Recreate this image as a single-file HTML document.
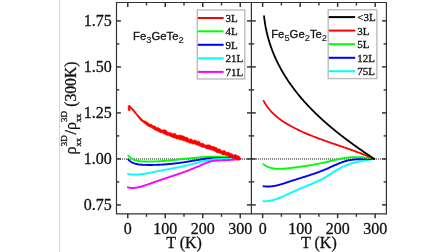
<!DOCTYPE html>
<html><head><meta charset="utf-8"><style>
html,body{margin:0;padding:0;background:#fff;width:448px;height:252px;overflow:hidden}
svg{display:block}
text{fill:#111;stroke:#111;stroke-width:0.3px;paint-order:stroke}
</style></head><body>
<svg width="448" height="252" viewBox="0 0 448 252">
<rect width="448" height="252" fill="#fff"/>
<line x1="59.5" y1="0" x2="59.5" y2="252" stroke="#d6d6d6" stroke-width="1"/>
<line x1="116" y1="159" x2="386" y2="159" stroke="#858585" stroke-width="2" stroke-dasharray="1 1"/>
<path d="M128.25,155.43 L128.65,155.91 L129.07,156.36 L129.49,156.79 L129.93,157.19 L130.37,157.57 L130.82,157.93 L131.29,158.26 L131.76,158.57 L132.24,158.87 L132.73,159.14 L133.22,159.39 L133.72,159.62 L134.23,159.84 L134.75,160.04 L135.27,160.22 L135.80,160.39 L136.34,160.54 L136.88,160.68 L137.42,160.80 L137.97,160.91 L138.52,161.01 L139.08,161.10 L139.64,161.18 L140.21,161.24 L140.77,161.30 L141.34,161.35 L141.91,161.40 L142.49,161.43 L143.06,161.47 L143.64,161.49 L144.22,161.51 L144.79,161.53 L145.37,161.54 L145.95,161.55 L146.53,161.56 L147.10,161.57 L147.68,161.57 L148.26,161.58 L148.83,161.58 L149.41,161.57 L149.98,161.57 L150.56,161.56 L151.13,161.55 L151.71,161.54 L152.28,161.53 L152.86,161.52 L153.43,161.50 L154.01,161.48 L154.58,161.46 L155.16,161.44 L155.73,161.42 L156.31,161.39 L156.88,161.36 L157.45,161.34 L158.03,161.31 L158.60,161.27 L159.17,161.24 L159.75,161.21 L160.32,161.17 L160.89,161.13 L161.47,161.10 L162.04,161.06 L162.61,161.01 L163.18,160.97 L163.76,160.93 L164.33,160.88 L164.90,160.84 L165.47,160.79 L166.04,160.74 L166.62,160.69 L167.19,160.64 L167.76,160.59 L168.33,160.54 L168.90,160.49 L169.47,160.43 L170.05,160.38 L170.62,160.32 L171.19,160.27 L171.76,160.21 L172.33,160.15 L172.90,160.09 L173.47,160.04 L174.04,159.98 L174.62,159.92 L175.19,159.86 L175.76,159.80 L176.33,159.74 L176.90,159.67 L177.47,159.61 L178.04,159.55 L178.61,159.49 L179.18,159.43 L179.75,159.37 L180.33,159.30 L180.90,159.24 L181.47,159.18 L182.04,159.12 L182.61,159.05 L183.18,158.99 L183.75,158.93 L184.32,158.87 L184.89,158.81 L185.46,158.75 L186.03,158.68 L186.61,158.62 L187.18,158.56 L187.75,158.50 L188.32,158.44 L188.89,158.38 L189.46,158.32 L190.03,158.27 L190.60,158.21 L191.18,158.15 L191.75,158.09 L192.32,158.04 L192.89,157.98 L193.46,157.93 L194.03,157.87 L194.60,157.82 L195.18,157.77 L195.75,157.72 L196.32,157.67 L196.89,157.62 L197.46,157.57 L198.03,157.52 L198.60,157.47 L199.18,157.43 L199.75,157.38 L200.32,157.34 L200.89,157.30 L201.46,157.26 L202.03,157.21 L202.61,157.18 L203.18,157.14 L203.75,157.10 L204.32,157.07 L204.89,157.03 L205.46,157.00 L206.04,156.97 L206.61,156.94 L207.18,156.91 L207.75,156.88 L208.32,156.86 L208.90,156.84 L209.47,156.81 L210.04,156.79 L210.61,156.78 L211.18,156.76 L211.75,156.74 L212.33,156.73 L212.90,156.72 L213.47,156.71 L214.04,156.70 L214.61,156.70 L215.18,156.69 L215.76,156.69 L216.33,156.69 L216.90,156.69 L217.47,156.70 L218.04,156.70 L218.62,156.71 L219.19,156.72 L219.76,156.73 L220.33,156.75 L220.90,156.77 L221.47,156.79 L222.05,156.81 L222.62,156.83 L223.19,156.86 L223.76,156.89 L224.33,156.92 L224.90,156.95 L225.47,156.99 L226.05,157.03 L226.62,157.07 L227.19,157.11 L227.76,157.16 L228.33,157.21 L228.90,157.26 L229.48,157.32 L230.05,157.38 L230.62,157.44 L231.19,157.50 L231.76,157.57 L232.33,157.64 L232.90,157.71 L233.47,157.78 L234.05,157.86 L234.62,157.94 L235.19,158.03 L235.76,158.12 L236.33,158.21 L236.90,158.30 L237.47,158.40 L238.04,158.50 L238.61,158.60 L239.19,158.71 L239.76,158.82 L240.33,158.93" fill="none" stroke="#00ff00" stroke-width="1.9" stroke-linecap="round" stroke-linejoin="round"/>
<path d="M128.19,159.40 L128.63,159.85 L129.08,160.27 L129.53,160.66 L129.99,161.03 L130.46,161.38 L130.94,161.70 L131.42,162.01 L131.91,162.29 L132.41,162.55 L132.92,162.80 L133.43,163.02 L133.94,163.23 L134.46,163.42 L134.99,163.60 L135.52,163.76 L136.06,163.91 L136.60,164.04 L137.14,164.16 L137.69,164.27 L138.24,164.36 L138.80,164.45 L139.36,164.53 L139.92,164.59 L140.48,164.65 L141.05,164.70 L141.61,164.74 L142.18,164.78 L142.75,164.81 L143.33,164.83 L143.90,164.86 L144.47,164.87 L145.05,164.89 L145.62,164.90 L146.19,164.91 L146.77,164.92 L147.34,164.93 L147.92,164.94 L148.49,164.94 L149.07,164.95 L149.64,164.95 L150.22,164.95 L150.79,164.94 L151.37,164.94 L151.94,164.94 L152.51,164.93 L153.09,164.92 L153.66,164.91 L154.24,164.90 L154.81,164.89 L155.39,164.87 L155.96,164.86 L156.54,164.84 L157.11,164.82 L157.69,164.80 L158.26,164.78 L158.84,164.75 L159.41,164.73 L159.98,164.70 L160.56,164.67 L161.13,164.64 L161.71,164.61 L162.28,164.58 L162.85,164.55 L163.43,164.51 L164.00,164.47 L164.58,164.43 L165.15,164.39 L165.72,164.35 L166.30,164.31 L166.87,164.26 L167.44,164.22 L168.01,164.17 L168.59,164.12 L169.16,164.07 L169.73,164.02 L170.30,163.96 L170.88,163.91 L171.45,163.85 L172.02,163.79 L172.59,163.74 L173.16,163.67 L173.73,163.61 L174.31,163.55 L174.88,163.48 L175.45,163.42 L176.02,163.35 L176.59,163.28 L177.16,163.21 L177.73,163.14 L178.30,163.07 L178.87,162.99 L179.44,162.92 L180.00,162.84 L180.57,162.76 L181.14,162.68 L181.71,162.60 L182.28,162.52 L182.84,162.43 L183.41,162.35 L183.98,162.26 L184.55,162.18 L185.11,162.09 L185.68,162.00 L186.24,161.91 L186.81,161.81 L187.37,161.72 L187.94,161.63 L188.50,161.53 L189.07,161.44 L189.63,161.34 L190.20,161.24 L190.76,161.15 L191.33,161.05 L191.89,160.95 L192.45,160.85 L193.02,160.75 L193.58,160.66 L194.14,160.56 L194.71,160.46 L195.27,160.37 L195.83,160.27 L196.40,160.17 L196.96,160.08 L197.52,159.99 L198.09,159.89 L198.65,159.80 L199.22,159.71 L199.78,159.62 L200.34,159.53 L200.91,159.44 L201.47,159.36 L202.04,159.27 L202.60,159.19 L203.16,159.11 L203.73,159.03 L204.29,158.95 L204.86,158.88 L205.43,158.81 L205.99,158.74 L206.56,158.67 L207.12,158.60 L207.69,158.54 L208.26,158.48 L208.82,158.42 L209.39,158.37 L209.96,158.31 L210.53,158.27 L211.10,158.22 L211.67,158.18 L212.24,158.14 L212.81,158.10 L213.38,158.07 L213.95,158.04 L214.52,158.02 L215.09,157.99 L215.66,157.97 L216.23,157.96 L216.81,157.94 L217.38,157.93 L217.95,157.92 L218.53,157.92 L219.10,157.91 L219.67,157.91 L220.25,157.91 L220.82,157.92 L221.39,157.92 L221.97,157.93 L222.54,157.94 L223.12,157.95 L223.69,157.97 L224.27,157.99 L224.84,158.00 L225.42,158.02 L225.99,158.05 L226.57,158.07 L227.14,158.09 L227.71,158.12 L228.29,158.15 L228.86,158.18 L229.44,158.21 L230.01,158.24 L230.59,158.27 L231.16,158.31 L231.73,158.34 L232.31,158.38 L232.88,158.41 L233.45,158.45 L234.02,158.49 L234.60,158.53 L235.17,158.56 L235.74,158.60 L236.31,158.64 L236.88,158.68 L237.45,158.72 L238.02,158.76 L238.59,158.80 L239.16,158.84 L239.73,158.89 L240.30,158.93" fill="none" stroke="#0000ff" stroke-width="1.9" stroke-linecap="round" stroke-linejoin="round"/>
<path d="M127.89,173.93 L128.47,174.03 L129.05,174.12 L129.62,174.20 L130.20,174.27 L130.77,174.33 L131.35,174.39 L131.92,174.43 L132.49,174.47 L133.07,174.50 L133.64,174.52 L134.21,174.54 L134.78,174.55 L135.35,174.55 L135.92,174.54 L136.49,174.53 L137.06,174.51 L137.63,174.49 L138.19,174.45 L138.76,174.42 L139.33,174.37 L139.90,174.33 L140.46,174.27 L141.03,174.22 L141.60,174.15 L142.16,174.09 L142.73,174.01 L143.29,173.94 L143.86,173.86 L144.42,173.77 L144.99,173.69 L145.55,173.60 L146.12,173.50 L146.68,173.41 L147.24,173.31 L147.81,173.21 L148.37,173.10 L148.94,173.00 L149.50,172.89 L150.06,172.78 L150.63,172.67 L151.19,172.56 L151.75,172.44 L152.32,172.33 L152.88,172.22 L153.44,172.10 L154.00,171.98 L154.57,171.87 L155.13,171.75 L155.69,171.64 L156.26,171.53 L156.82,171.41 L157.38,171.30 L157.95,171.19 L158.51,171.08 L159.07,170.96 L159.64,170.85 L160.20,170.74 L160.77,170.63 L161.33,170.52 L161.89,170.42 L162.46,170.31 L163.02,170.20 L163.58,170.09 L164.15,169.98 L164.71,169.88 L165.28,169.77 L165.84,169.66 L166.40,169.56 L166.97,169.45 L167.53,169.34 L168.09,169.23 L168.66,169.13 L169.22,169.02 L169.78,168.91 L170.35,168.81 L170.91,168.70 L171.47,168.59 L172.04,168.48 L172.60,168.37 L173.16,168.27 L173.72,168.16 L174.29,168.05 L174.85,167.94 L175.41,167.83 L175.97,167.72 L176.54,167.61 L177.10,167.49 L177.66,167.38 L178.22,167.27 L178.78,167.15 L179.34,167.04 L179.90,166.92 L180.47,166.81 L181.03,166.69 L181.59,166.57 L182.15,166.45 L182.71,166.33 L183.27,166.21 L183.83,166.09 L184.38,165.97 L184.94,165.85 L185.50,165.72 L186.06,165.59 L186.62,165.47 L187.18,165.34 L187.73,165.21 L188.29,165.08 L188.85,164.95 L189.41,164.81 L189.96,164.68 L190.52,164.54 L191.08,164.40 L191.63,164.26 L192.19,164.12 L192.74,163.98 L193.30,163.84 L193.85,163.69 L194.40,163.55 L194.96,163.40 L195.51,163.25 L196.07,163.11 L196.62,162.96 L197.17,162.81 L197.73,162.66 L198.28,162.51 L198.83,162.37 L199.39,162.22 L199.94,162.08 L200.50,161.93 L201.05,161.79 L201.60,161.65 L202.16,161.51 L202.71,161.37 L203.27,161.24 L203.82,161.10 L204.38,160.97 L204.94,160.84 L205.49,160.72 L206.05,160.60 L206.61,160.48 L207.17,160.36 L207.72,160.25 L208.28,160.14 L208.84,160.03 L209.40,159.93 L209.96,159.83 L210.53,159.74 L211.09,159.65 L211.65,159.57 L212.22,159.49 L212.78,159.42 L213.35,159.35 L213.91,159.29 L214.48,159.23 L215.05,159.17 L215.62,159.12 L216.19,159.08 L216.76,159.03 L217.33,159.00 L217.90,158.96 L218.47,158.93 L219.04,158.90 L219.62,158.88 L220.19,158.86 L220.76,158.84 L221.34,158.82 L221.91,158.81 L222.48,158.80 L223.06,158.79 L223.63,158.79 L224.21,158.78 L224.79,158.78 L225.36,158.78 L225.94,158.79 L226.51,158.79 L227.09,158.79 L227.67,158.80 L228.24,158.81 L228.82,158.82 L229.40,158.82 L229.97,158.83 L230.55,158.84 L231.12,158.85 L231.70,158.86 L232.28,158.88 L232.85,158.89 L233.43,158.90 L234.00,158.91 L234.58,158.92 L235.15,158.92 L235.73,158.93 L236.30,158.94 L236.87,158.94 L237.45,158.95 L238.02,158.95 L238.59,158.95 L239.16,158.95 L239.74,158.95 L240.31,158.95" fill="none" stroke="#00ffff" stroke-width="1.9" stroke-linecap="round" stroke-linejoin="round"/>
<path d="M127.89,187.32 L128.47,187.48 L129.06,187.62 L129.64,187.73 L130.23,187.82 L130.81,187.89 L131.39,187.94 L131.98,187.97 L132.56,187.98 L133.14,187.98 L133.73,187.96 L134.31,187.92 L134.89,187.87 L135.47,187.80 L136.05,187.72 L136.63,187.63 L137.21,187.53 L137.79,187.41 L138.37,187.29 L138.94,187.16 L139.52,187.02 L140.09,186.87 L140.66,186.72 L141.23,186.56 L141.80,186.39 L142.37,186.23 L142.94,186.06 L143.50,185.88 L144.07,185.70 L144.63,185.52 L145.19,185.34 L145.75,185.16 L146.31,184.97 L146.87,184.78 L147.43,184.59 L147.98,184.40 L148.54,184.20 L149.09,184.01 L149.65,183.81 L150.20,183.61 L150.76,183.41 L151.31,183.21 L151.86,183.01 L152.42,182.81 L152.97,182.61 L153.53,182.41 L154.08,182.21 L154.63,182.01 L155.19,181.81 L155.74,181.62 L156.30,181.42 L156.85,181.23 L157.41,181.03 L157.96,180.84 L158.52,180.65 L159.07,180.45 L159.63,180.26 L160.19,180.07 L160.75,179.88 L161.30,179.70 L161.86,179.51 L162.42,179.32 L162.98,179.14 L163.54,178.95 L164.09,178.76 L164.65,178.58 L165.21,178.39 L165.77,178.21 L166.33,178.03 L166.89,177.84 L167.45,177.66 L168.01,177.47 L168.57,177.29 L169.13,177.11 L169.69,176.92 L170.25,176.74 L170.81,176.56 L171.37,176.37 L171.93,176.19 L172.49,176.00 L173.04,175.82 L173.60,175.63 L174.16,175.45 L174.72,175.26 L175.28,175.08 L175.84,174.89 L176.40,174.70 L176.96,174.51 L177.51,174.32 L178.07,174.13 L178.63,173.94 L179.18,173.75 L179.74,173.56 L180.30,173.36 L180.85,173.17 L181.41,172.97 L181.96,172.78 L182.52,172.58 L183.07,172.38 L183.63,172.18 L184.18,171.98 L184.73,171.78 L185.29,171.57 L185.84,171.37 L186.39,171.16 L186.94,170.95 L187.49,170.74 L188.04,170.53 L188.59,170.32 L189.14,170.10 L189.69,169.89 L190.24,169.67 L190.79,169.45 L191.34,169.23 L191.88,169.01 L192.43,168.79 L192.98,168.57 L193.52,168.35 L194.07,168.12 L194.61,167.90 L195.16,167.67 L195.70,167.45 L196.24,167.22 L196.79,166.99 L197.33,166.76 L197.87,166.53 L198.41,166.30 L198.96,166.07 L199.50,165.83 L200.04,165.60 L200.58,165.36 L201.12,165.13 L201.66,164.89 L202.20,164.66 L202.74,164.42 L203.28,164.18 L203.82,163.94 L204.36,163.71 L204.89,163.47 L205.43,163.24 L205.98,163.02 L206.52,162.79 L207.06,162.58 L207.61,162.37 L208.16,162.18 L208.71,161.99 L209.26,161.81 L209.82,161.65 L210.38,161.49 L210.94,161.36 L211.51,161.23 L212.08,161.12 L212.65,161.01 L213.23,160.92 L213.81,160.84 L214.39,160.77 L214.97,160.70 L215.56,160.64 L216.15,160.59 L216.73,160.55 L217.32,160.51 L217.92,160.47 L218.51,160.44 L219.10,160.42 L219.69,160.39 L220.29,160.37 L220.88,160.35 L221.47,160.33 L222.07,160.31 L222.66,160.29 L223.26,160.27 L223.85,160.25 L224.44,160.22 L225.03,160.20 L225.62,160.17 L226.22,160.15 L226.81,160.12 L227.40,160.09 L227.99,160.06 L228.58,160.02 L229.17,159.99 L229.76,159.95 L230.35,159.91 L230.93,159.87 L231.52,159.83 L232.11,159.79 L232.70,159.74 L233.28,159.69 L233.87,159.64 L234.46,159.58 L235.04,159.53 L235.63,159.47 L236.21,159.40 L236.80,159.34 L237.38,159.27 L237.96,159.20 L238.55,159.12 L239.13,159.05 L239.71,158.96 L240.29,158.88" fill="none" stroke="#ff00ff" stroke-width="1.9" stroke-linecap="round" stroke-linejoin="round"/>
<path d="M128.20,105.50 L130.20,105.30 L129.60,105.38 L130.90,106.65 L132.20,107.91 L133.50,109.17 L134.80,110.82 L136.10,112.51 L137.40,114.33 L138.70,115.61 L140.00,117.23 L141.30,118.36 L142.60,119.74 L143.90,120.62 L145.20,120.88 L146.50,121.84 L147.80,122.46 L149.10,123.67 L150.40,124.26 L151.70,124.32 L153.00,125.70 L154.30,125.83 L155.60,126.59 L156.90,127.64 L158.20,127.38 L159.50,128.32 L160.80,129.16 L162.10,130.09 L163.40,129.65 L164.70,129.70 L166.00,130.01 L167.30,131.73 L168.60,132.39 L169.90,132.55 L171.20,132.82 L172.50,133.71 L173.80,133.53 L175.10,133.27 L176.40,134.70 L177.70,135.42 L179.00,135.11 L180.30,134.91 L181.60,135.58 L182.90,135.81 L184.20,136.34 L185.50,137.21 L186.80,137.10 L188.10,138.31 L189.40,139.19 L190.70,138.69 L192.00,139.25 L193.30,140.70 L194.60,139.81 L195.90,140.34 L197.20,141.39 L198.50,140.85 L199.80,141.93 L201.10,143.38 L202.40,143.10 L203.70,143.84 L205.00,144.69 L206.30,145.12 L207.60,144.78 L208.90,144.77 L210.20,145.18 L211.50,145.91 L212.80,146.61 L214.10,146.52 L215.40,147.17 L216.70,147.52 L218.00,149.01 L219.30,148.87 L220.60,149.54 L221.90,150.84 L223.20,150.67 L224.50,150.49 L225.80,151.40 L227.10,152.69 L228.40,151.78 L229.70,153.10 L231.00,153.58 L232.30,154.00 L233.60,155.01 L234.90,154.43 L236.20,154.70 L237.50,155.74 L238.80,155.82 L240.60,158.00 L240.60,159.80 L239.40,160.08 L238.10,160.22 L236.80,159.79 L235.50,158.95 L234.20,158.84 L232.90,158.68 L231.60,157.28 L230.30,156.95 L229.00,157.29 L227.70,156.04 L226.40,155.68 L225.10,155.05 L223.80,154.96 L222.50,154.99 L221.20,153.65 L219.90,153.39 L218.60,152.71 L217.30,152.96 L216.00,151.96 L214.70,151.27 L213.40,150.69 L212.10,150.31 L210.80,149.74 L209.50,149.82 L208.20,149.11 L206.90,149.03 L205.60,148.54 L204.30,147.34 L203.00,147.44 L201.70,147.05 L200.40,146.47 L199.10,145.86 L197.80,145.26 L196.50,145.03 L195.20,144.34 L193.90,143.82 L192.60,144.13 L191.30,143.23 L190.00,143.26 L188.70,142.86 L187.40,142.01 L186.10,142.01 L184.80,140.97 L183.50,141.08 L182.20,140.01 L180.90,139.93 L179.60,139.72 L178.30,138.91 L177.00,139.19 L175.70,138.47 L174.40,137.99 L173.10,137.83 L171.80,136.89 L170.50,136.57 L169.20,135.82 L167.90,135.60 L166.60,135.21 L165.30,134.53 L164.00,134.29 L162.70,133.12 L161.40,132.74 L160.10,132.71 L158.80,131.84 L157.50,131.35 L156.20,130.38 L154.90,129.98 L153.60,129.19 L152.30,128.33 L151.00,127.52 L149.70,127.01 L148.40,126.37 L147.10,125.70 L145.80,124.35 L144.50,123.52 L143.20,122.36 L141.90,121.45 L140.60,120.53 L139.30,118.79 L138.00,117.59 L136.70,115.62 L135.40,114.11 L134.10,112.49 L132.80,110.87 L131.50,109.40 L130.20,108.37 L130.00,110.60 L128.20,110.60 Z" fill="#ff0000" stroke="#ff0000" stroke-width="0.5" stroke-linejoin="round"/>
<path d="M263.29,201.17 L263.90,201.20 L264.51,201.21 L265.12,201.21 L265.72,201.19 L266.32,201.17 L266.92,201.13 L267.52,201.08 L268.11,201.01 L268.70,200.94 L269.29,200.85 L269.88,200.76 L270.46,200.65 L271.05,200.54 L271.63,200.41 L272.21,200.28 L272.79,200.14 L273.36,199.99 L273.94,199.83 L274.51,199.67 L275.08,199.50 L275.65,199.32 L276.22,199.13 L276.79,198.94 L277.35,198.74 L277.92,198.54 L278.48,198.33 L279.04,198.12 L279.60,197.90 L280.16,197.67 L280.72,197.45 L281.28,197.22 L281.83,196.98 L282.39,196.74 L282.95,196.50 L283.50,196.25 L284.05,196.00 L284.61,195.75 L285.16,195.50 L285.71,195.24 L286.27,194.99 L286.82,194.73 L287.37,194.47 L287.92,194.21 L288.47,193.95 L289.02,193.69 L289.58,193.43 L290.13,193.16 L290.68,192.90 L291.23,192.64 L291.78,192.38 L292.33,192.13 L292.89,191.87 L293.44,191.61 L293.99,191.36 L294.55,191.11 L295.10,190.86 L295.65,190.61 L296.21,190.36 L296.76,190.11 L297.32,189.87 L297.87,189.62 L298.43,189.38 L298.99,189.14 L299.54,188.90 L300.10,188.66 L300.66,188.43 L301.22,188.19 L301.78,187.96 L302.34,187.73 L302.90,187.50 L303.46,187.27 L304.02,187.04 L304.58,186.82 L305.14,186.59 L305.70,186.37 L306.26,186.14 L306.82,185.92 L307.38,185.69 L307.94,185.46 L308.49,185.24 L309.05,185.01 L309.61,184.79 L310.17,184.56 L310.73,184.33 L311.28,184.10 L311.84,183.87 L312.39,183.64 L312.94,183.40 L313.50,183.17 L314.05,182.93 L314.60,182.69 L315.15,182.45 L315.70,182.20 L316.24,181.95 L316.79,181.70 L317.33,181.45 L317.87,181.20 L318.41,180.94 L318.95,180.67 L319.49,180.41 L320.03,180.14 L320.56,179.87 L321.09,179.59 L321.62,179.31 L322.15,179.02 L322.67,178.73 L323.20,178.44 L323.72,178.14 L324.24,177.84 L324.76,177.53 L325.27,177.22 L325.79,176.91 L326.31,176.60 L326.82,176.28 L327.33,175.97 L327.84,175.65 L328.36,175.33 L328.87,175.01 L329.38,174.68 L329.89,174.36 L330.40,174.04 L330.91,173.71 L331.42,173.39 L331.93,173.06 L332.44,172.74 L332.95,172.42 L333.47,172.10 L333.98,171.78 L334.50,171.46 L335.01,171.14 L335.53,170.82 L336.04,170.51 L336.56,170.20 L337.08,169.89 L337.61,169.59 L338.13,169.29 L338.65,168.99 L339.18,168.69 L339.71,168.40 L340.24,168.12 L340.77,167.83 L341.30,167.56 L341.84,167.28 L342.38,167.01 L342.92,166.75 L343.46,166.49 L344.01,166.24 L344.55,166.00 L345.10,165.76 L345.66,165.52 L346.21,165.29 L346.77,165.07 L347.33,164.85 L347.89,164.64 L348.46,164.44 L349.02,164.24 L349.59,164.04 L350.16,163.86 L350.73,163.67 L351.31,163.50 L351.89,163.33 L352.47,163.16 L353.05,163.00 L353.63,162.84 L354.22,162.69 L354.80,162.55 L355.39,162.40 L355.98,162.27 L356.57,162.13 L357.16,162.00 L357.75,161.87 L358.35,161.75 L358.94,161.63 L359.54,161.51 L360.13,161.39 L360.73,161.28 L361.33,161.17 L361.92,161.06 L362.52,160.95 L363.12,160.84 L363.72,160.74 L364.32,160.63 L364.91,160.53 L365.51,160.43 L366.11,160.32 L366.71,160.22 L367.30,160.12 L367.90,160.02 L368.50,159.91 L369.09,159.81 L369.69,159.71 L370.28,159.60 L370.87,159.49 L371.46,159.38 L372.05,159.27 L372.64,159.16 L373.23,159.05 L373.81,158.93 L374.40,158.81" fill="none" stroke="#00ffff" stroke-width="1.9" stroke-linecap="round" stroke-linejoin="round"/>
<path d="M263.47,186.23 L264.05,186.31 L264.63,186.37 L265.21,186.43 L265.79,186.48 L266.37,186.51 L266.94,186.53 L267.52,186.54 L268.09,186.54 L268.66,186.53 L269.23,186.51 L269.81,186.48 L270.38,186.44 L270.95,186.39 L271.51,186.34 L272.08,186.27 L272.65,186.20 L273.22,186.11 L273.78,186.02 L274.35,185.93 L274.91,185.82 L275.47,185.71 L276.04,185.59 L276.60,185.47 L277.16,185.34 L277.72,185.21 L278.29,185.07 L278.85,184.92 L279.41,184.77 L279.97,184.62 L280.53,184.46 L281.09,184.29 L281.64,184.13 L282.20,183.96 L282.76,183.79 L283.32,183.61 L283.88,183.43 L284.43,183.25 L284.99,183.07 L285.55,182.89 L286.10,182.70 L286.66,182.52 L287.22,182.33 L287.77,182.15 L288.33,181.96 L288.89,181.77 L289.44,181.59 L290.00,181.40 L290.55,181.22 L291.11,181.04 L291.67,180.85 L292.22,180.67 L292.78,180.49 L293.33,180.32 L293.89,180.14 L294.45,179.96 L295.00,179.78 L295.56,179.61 L296.11,179.43 L296.67,179.26 L297.23,179.08 L297.78,178.91 L298.34,178.73 L298.89,178.56 L299.45,178.39 L300.00,178.21 L300.56,178.04 L301.11,177.87 L301.66,177.70 L302.22,177.52 L302.77,177.35 L303.33,177.18 L303.88,177.00 L304.43,176.83 L304.99,176.66 L305.54,176.48 L306.09,176.31 L306.64,176.13 L307.19,175.96 L307.75,175.78 L308.30,175.60 L308.85,175.42 L309.40,175.25 L309.95,175.07 L310.50,174.89 L311.05,174.71 L311.60,174.52 L312.15,174.34 L312.69,174.16 L313.24,173.97 L313.79,173.79 L314.34,173.60 L314.88,173.41 L315.43,173.22 L315.97,173.03 L316.52,172.84 L317.06,172.64 L317.61,172.44 L318.15,172.25 L318.69,172.05 L319.24,171.85 L319.78,171.64 L320.32,171.44 L320.86,171.23 L321.40,171.02 L321.94,170.81 L322.48,170.60 L323.02,170.38 L323.55,170.17 L324.09,169.95 L324.63,169.73 L325.16,169.50 L325.70,169.28 L326.23,169.05 L326.77,168.82 L327.30,168.58 L327.83,168.35 L328.37,168.11 L328.90,167.87 L329.43,167.63 L329.96,167.39 L330.49,167.15 L331.02,166.91 L331.55,166.67 L332.08,166.43 L332.62,166.19 L333.15,165.95 L333.68,165.71 L334.21,165.47 L334.74,165.23 L335.27,164.99 L335.81,164.76 L336.34,164.53 L336.87,164.30 L337.41,164.07 L337.94,163.84 L338.48,163.62 L339.01,163.40 L339.55,163.19 L340.09,162.98 L340.63,162.77 L341.17,162.57 L341.71,162.37 L342.25,162.17 L342.80,161.98 L343.34,161.80 L343.89,161.62 L344.44,161.45 L344.99,161.28 L345.54,161.12 L346.09,160.97 L346.65,160.82 L347.20,160.68 L347.76,160.55 L348.32,160.42 L348.88,160.30 L349.45,160.19 L350.01,160.09 L350.58,159.99 L351.15,159.90 L351.72,159.82 L352.29,159.74 L352.87,159.67 L353.44,159.61 L354.02,159.55 L354.60,159.49 L355.18,159.44 L355.76,159.40 L356.34,159.36 L356.92,159.32 L357.50,159.29 L358.09,159.26 L358.67,159.24 L359.26,159.22 L359.84,159.20 L360.43,159.18 L361.01,159.17 L361.60,159.16 L362.19,159.14 L362.77,159.14 L363.36,159.13 L363.95,159.12 L364.53,159.11 L365.12,159.11 L365.71,159.10 L366.29,159.10 L366.88,159.09 L367.46,159.08 L368.05,159.07 L368.63,159.06 L369.21,159.05 L369.79,159.04 L370.38,159.03 L370.96,159.01 L371.53,158.99 L372.11,158.97 L372.69,158.94 L373.26,158.91 L373.84,158.88 L374.41,158.84" fill="none" stroke="#0000ff" stroke-width="1.9" stroke-linecap="round" stroke-linejoin="round"/>
<path d="M263.43,164.12 L263.90,164.50 L264.38,164.85 L264.86,165.19 L265.35,165.50 L265.84,165.80 L266.34,166.08 L266.84,166.35 L267.35,166.60 L267.86,166.83 L268.37,167.05 L268.89,167.26 L269.42,167.45 L269.94,167.62 L270.47,167.78 L271.00,167.93 L271.54,168.07 L272.08,168.19 L272.62,168.30 L273.17,168.40 L273.71,168.49 L274.26,168.57 L274.81,168.64 L275.37,168.70 L275.92,168.75 L276.48,168.80 L277.04,168.83 L277.60,168.85 L278.16,168.87 L278.73,168.88 L279.29,168.88 L279.86,168.88 L280.43,168.86 L281.00,168.85 L281.57,168.82 L282.14,168.79 L282.71,168.76 L283.29,168.72 L283.86,168.68 L284.43,168.63 L285.01,168.58 L285.58,168.53 L286.16,168.47 L286.73,168.41 L287.31,168.34 L287.89,168.28 L288.46,168.21 L289.04,168.15 L289.61,168.08 L290.18,168.01 L290.76,167.94 L291.33,167.87 L291.90,167.80 L292.47,167.73 L293.05,167.66 L293.62,167.59 L294.19,167.52 L294.76,167.44 L295.33,167.37 L295.89,167.30 L296.46,167.23 L297.03,167.15 L297.60,167.08 L298.16,167.00 L298.73,166.92 L299.30,166.85 L299.86,166.77 L300.43,166.69 L300.99,166.62 L301.56,166.54 L302.12,166.46 L302.68,166.38 L303.25,166.29 L303.81,166.21 L304.37,166.13 L304.93,166.05 L305.50,165.96 L306.06,165.88 L306.62,165.79 L307.18,165.70 L307.74,165.62 L308.30,165.53 L308.86,165.44 L309.42,165.35 L309.98,165.25 L310.54,165.16 L311.09,165.07 L311.65,164.97 L312.21,164.88 L312.77,164.78 L313.32,164.68 L313.88,164.59 L314.44,164.49 L314.99,164.38 L315.55,164.28 L316.11,164.18 L316.66,164.07 L317.22,163.97 L317.77,163.86 L318.33,163.75 L318.88,163.64 L319.44,163.53 L319.99,163.42 L320.55,163.31 L321.10,163.19 L321.65,163.08 L322.21,162.96 L322.76,162.84 L323.32,162.72 L323.87,162.60 L324.42,162.48 L324.98,162.35 L325.53,162.23 L326.08,162.10 L326.63,161.97 L327.19,161.84 L327.74,161.71 L328.29,161.58 L328.85,161.45 L329.40,161.31 L329.95,161.18 L330.50,161.04 L331.06,160.91 L331.61,160.78 L332.16,160.64 L332.71,160.51 L333.27,160.37 L333.82,160.24 L334.37,160.11 L334.93,159.98 L335.48,159.84 L336.04,159.72 L336.59,159.59 L337.15,159.46 L337.70,159.34 L338.26,159.21 L338.81,159.09 L339.37,158.97 L339.92,158.86 L340.48,158.75 L341.04,158.63 L341.60,158.53 L342.15,158.42 L342.71,158.32 L343.27,158.22 L343.83,158.13 L344.39,158.03 L344.95,157.95 L345.51,157.86 L346.07,157.78 L346.64,157.71 L347.20,157.64 L347.76,157.57 L348.33,157.51 L348.89,157.45 L349.46,157.40 L350.02,157.35 L350.59,157.30 L351.16,157.26 L351.73,157.23 L352.29,157.20 L352.86,157.17 L353.43,157.14 L354.00,157.13 L354.57,157.11 L355.14,157.10 L355.71,157.09 L356.28,157.09 L356.85,157.09 L357.41,157.09 L357.98,157.10 L358.55,157.11 L359.12,157.13 L359.69,157.15 L360.26,157.17 L360.83,157.20 L361.40,157.23 L361.97,157.26 L362.54,157.30 L363.11,157.34 L363.68,157.38 L364.25,157.43 L364.82,157.48 L365.39,157.53 L365.95,157.59 L366.52,157.65 L367.09,157.71 L367.66,157.78 L368.22,157.85 L368.79,157.92 L369.35,157.99 L369.92,158.07 L370.48,158.15 L371.04,158.24 L371.61,158.32 L372.17,158.41 L372.73,158.51 L373.29,158.60 L373.85,158.70 L374.41,158.80" fill="none" stroke="#00ff00" stroke-width="1.9" stroke-linecap="round" stroke-linejoin="round"/>
<path d="M263.67,100.85 L263.98,101.45 L264.30,102.04 L264.62,102.62 L264.95,103.19 L265.29,103.76 L265.64,104.32 L265.99,104.87 L266.34,105.41 L266.71,105.95 L267.08,106.48 L267.45,107.01 L267.84,107.53 L268.23,108.04 L268.62,108.54 L269.02,109.04 L269.43,109.54 L269.84,110.02 L270.25,110.50 L270.68,110.98 L271.10,111.45 L271.54,111.91 L271.97,112.37 L272.42,112.82 L272.87,113.26 L273.32,113.70 L273.77,114.14 L274.24,114.57 L274.70,114.99 L275.17,115.41 L275.65,115.83 L276.13,116.24 L276.61,116.64 L277.10,117.04 L277.59,117.44 L278.09,117.83 L278.58,118.22 L279.09,118.60 L279.59,118.98 L280.10,119.35 L280.62,119.72 L281.13,120.08 L281.65,120.45 L282.17,120.80 L282.70,121.16 L283.22,121.51 L283.76,121.85 L284.29,122.20 L284.82,122.54 L285.36,122.87 L285.90,123.21 L286.45,123.54 L286.99,123.86 L287.54,124.19 L288.09,124.51 L288.64,124.83 L289.19,125.14 L289.74,125.46 L290.30,125.77 L290.85,126.08 L291.41,126.38 L291.97,126.68 L292.53,126.99 L293.10,127.28 L293.66,127.58 L294.23,127.87 L294.79,128.17 L295.36,128.46 L295.93,128.74 L296.50,129.03 L297.07,129.31 L297.65,129.59 L298.22,129.87 L298.80,130.15 L299.37,130.42 L299.95,130.70 L300.53,130.97 L301.11,131.24 L301.69,131.50 L302.27,131.77 L302.86,132.03 L303.44,132.30 L304.03,132.56 L304.61,132.81 L305.20,133.07 L305.79,133.33 L306.38,133.58 L306.97,133.83 L307.56,134.08 L308.15,134.33 L308.75,134.58 L309.34,134.82 L309.93,135.06 L310.53,135.31 L311.13,135.55 L311.72,135.79 L312.32,136.03 L312.92,136.26 L313.52,136.50 L314.12,136.73 L314.72,136.97 L315.32,137.20 L315.92,137.43 L316.52,137.66 L317.13,137.89 L317.73,138.12 L318.34,138.34 L318.94,138.57 L319.55,138.79 L320.15,139.02 L320.76,139.24 L321.36,139.46 L321.97,139.68 L322.58,139.90 L323.19,140.12 L323.79,140.34 L324.40,140.56 L325.01,140.78 L325.62,140.99 L326.23,141.21 L326.84,141.42 L327.45,141.64 L328.06,141.85 L328.67,142.06 L329.28,142.28 L329.89,142.49 L330.50,142.70 L331.12,142.91 L331.73,143.12 L332.34,143.34 L332.95,143.55 L333.56,143.76 L334.17,143.97 L334.79,144.18 L335.40,144.39 L336.01,144.59 L336.62,144.80 L337.23,145.01 L337.84,145.22 L338.46,145.43 L339.07,145.64 L339.68,145.85 L340.29,146.06 L340.90,146.27 L341.51,146.47 L342.12,146.68 L342.73,146.89 L343.34,147.10 L343.95,147.31 L344.56,147.52 L345.17,147.73 L345.78,147.94 L346.39,148.15 L346.99,148.37 L347.60,148.58 L348.21,148.79 L348.82,149.00 L349.42,149.21 L350.03,149.43 L350.63,149.64 L351.24,149.86 L351.84,150.07 L352.45,150.29 L353.05,150.50 L353.65,150.72 L354.26,150.94 L354.86,151.16 L355.46,151.38 L356.06,151.60 L356.66,151.82 L357.26,152.04 L357.85,152.26 L358.45,152.49 L359.05,152.71 L359.64,152.94 L360.24,153.16 L360.83,153.39 L361.43,153.62 L362.02,153.85 L362.61,154.08 L363.20,154.31 L363.79,154.55 L364.38,154.78 L364.97,155.02 L365.55,155.25 L366.14,155.49 L366.73,155.73 L367.31,155.97 L367.89,156.22 L368.47,156.46 L369.05,156.71 L369.63,156.95 L370.21,157.20 L370.79,157.45 L371.37,157.70 L371.94,157.96 L372.51,158.21 L373.09,158.47 L373.66,158.73 L374.23,158.99" fill="none" stroke="#ff0000" stroke-width="1.8" stroke-linecap="round" stroke-linejoin="round"/>
<path d="M264.05,16.24 L264.16,17.18 L264.26,18.13 L264.38,19.07 L264.50,20.01 L264.63,20.95 L264.77,21.89 L264.91,22.82 L265.06,23.76 L265.21,24.69 L265.37,25.62 L265.54,26.55 L265.72,27.48 L265.90,28.40 L266.08,29.33 L266.28,30.25 L266.48,31.17 L266.68,32.09 L266.90,33.01 L267.11,33.92 L267.34,34.83 L267.57,35.75 L267.81,36.65 L268.05,37.56 L268.30,38.47 L268.56,39.37 L268.82,40.27 L269.09,41.17 L269.36,42.07 L269.64,42.96 L269.93,43.85 L270.22,44.74 L270.52,45.63 L270.82,46.52 L271.13,47.40 L271.45,48.28 L271.77,49.16 L272.10,50.03 L272.43,50.91 L272.77,51.78 L273.12,52.65 L273.47,53.52 L273.82,54.38 L274.19,55.24 L274.55,56.10 L274.93,56.96 L275.31,57.81 L275.69,58.66 L276.09,59.51 L276.48,60.36 L276.88,61.20 L277.29,62.04 L277.70,62.88 L278.12,63.72 L278.54,64.55 L278.97,65.38 L279.41,66.21 L279.84,67.04 L280.29,67.86 L280.74,68.68 L281.19,69.50 L281.65,70.31 L282.11,71.12 L282.58,71.93 L283.05,72.74 L283.53,73.55 L284.02,74.35 L284.50,75.15 L284.99,75.94 L285.49,76.74 L285.99,77.53 L286.50,78.32 L287.01,79.10 L287.52,79.88 L288.04,80.66 L288.56,81.44 L289.09,82.22 L289.62,82.99 L290.16,83.76 L290.69,84.52 L291.24,85.28 L291.79,86.05 L292.34,86.80 L292.89,87.56 L293.45,88.31 L294.01,89.06 L294.58,89.80 L295.15,90.55 L295.72,91.29 L296.30,92.03 L296.88,92.76 L297.47,93.49 L298.06,94.22 L298.65,94.95 L299.24,95.67 L299.84,96.39 L300.44,97.11 L301.05,97.83 L301.66,98.54 L302.27,99.25 L302.88,99.95 L303.50,100.66 L304.12,101.36 L304.75,102.06 L305.38,102.76 L306.01,103.45 L306.64,104.14 L307.28,104.83 L307.92,105.52 L308.56,106.20 L309.21,106.88 L309.85,107.56 L310.51,108.23 L311.16,108.91 L311.82,109.58 L312.48,110.24 L313.14,110.91 L313.80,111.57 L314.47,112.23 L315.14,112.89 L315.81,113.55 L316.49,114.20 L317.17,114.85 L317.85,115.50 L318.53,116.15 L319.22,116.79 L319.90,117.43 L320.59,118.07 L321.29,118.71 L321.98,119.34 L322.68,119.98 L323.38,120.61 L324.08,121.23 L324.78,121.86 L325.49,122.48 L326.19,123.10 L326.90,123.72 L327.62,124.34 L328.33,124.96 L329.04,125.57 L329.76,126.18 L330.48,126.79 L331.20,127.39 L331.92,128.00 L332.65,128.60 L333.38,129.20 L334.10,129.80 L334.83,130.39 L335.56,130.99 L336.30,131.58 L337.03,132.17 L337.77,132.76 L338.50,133.34 L339.24,133.92 L339.98,134.51 L340.73,135.09 L341.47,135.66 L342.21,136.24 L342.96,136.82 L343.71,137.39 L344.45,137.96 L345.20,138.53 L345.95,139.09 L346.71,139.66 L347.46,140.22 L348.21,140.78 L348.97,141.34 L349.72,141.90 L350.48,142.46 L351.24,143.01 L352.00,143.56 L352.75,144.12 L353.51,144.67 L354.28,145.21 L355.04,145.76 L355.80,146.30 L356.56,146.85 L357.33,147.39 L358.09,147.93 L358.86,148.47 L359.62,149.00 L360.39,149.54 L361.15,150.07 L361.92,150.60 L362.69,151.13 L363.46,151.66 L364.23,152.19 L364.99,152.71 L365.76,153.24 L366.53,153.76 L367.30,154.28 L368.07,154.80 L368.84,155.32 L369.61,155.84 L370.38,156.36 L371.15,156.87 L371.92,157.38 L372.69,157.90 L373.46,158.41 L374.23,158.92" fill="none" stroke="#000000" stroke-width="1.8" stroke-linecap="round" stroke-linejoin="round"/>
<path d="M116.5,2.5 H386.4 V213.8 H116.5 Z M251.4,2.5 V213.8" fill="none" stroke="#333" stroke-width="1.2"/>
<line x1="127.75" y1="2.50" x2="127.75" y2="6.90" stroke="#333" stroke-width="1.5"/>
<line x1="127.75" y1="213.80" x2="127.75" y2="218.20" stroke="#333" stroke-width="1.5"/>
<line x1="146.50" y1="2.50" x2="146.50" y2="5.50" stroke="#333" stroke-width="1.4"/>
<line x1="146.50" y1="213.80" x2="146.50" y2="216.80" stroke="#333" stroke-width="1.4"/>
<line x1="165.25" y1="2.50" x2="165.25" y2="6.90" stroke="#333" stroke-width="1.5"/>
<line x1="165.25" y1="213.80" x2="165.25" y2="218.20" stroke="#333" stroke-width="1.5"/>
<line x1="184.00" y1="2.50" x2="184.00" y2="5.50" stroke="#333" stroke-width="1.4"/>
<line x1="184.00" y1="213.80" x2="184.00" y2="216.80" stroke="#333" stroke-width="1.4"/>
<line x1="202.75" y1="2.50" x2="202.75" y2="6.90" stroke="#333" stroke-width="1.5"/>
<line x1="202.75" y1="213.80" x2="202.75" y2="218.20" stroke="#333" stroke-width="1.5"/>
<line x1="221.50" y1="2.50" x2="221.50" y2="5.50" stroke="#333" stroke-width="1.4"/>
<line x1="221.50" y1="213.80" x2="221.50" y2="216.80" stroke="#333" stroke-width="1.4"/>
<line x1="240.25" y1="2.50" x2="240.25" y2="6.90" stroke="#333" stroke-width="1.5"/>
<line x1="240.25" y1="213.80" x2="240.25" y2="218.20" stroke="#333" stroke-width="1.5"/>
<line x1="262.65" y1="2.50" x2="262.65" y2="6.90" stroke="#333" stroke-width="1.5"/>
<line x1="262.65" y1="213.80" x2="262.65" y2="218.20" stroke="#333" stroke-width="1.5"/>
<line x1="281.40" y1="2.50" x2="281.40" y2="5.50" stroke="#333" stroke-width="1.4"/>
<line x1="281.40" y1="213.80" x2="281.40" y2="216.80" stroke="#333" stroke-width="1.4"/>
<line x1="300.15" y1="2.50" x2="300.15" y2="6.90" stroke="#333" stroke-width="1.5"/>
<line x1="300.15" y1="213.80" x2="300.15" y2="218.20" stroke="#333" stroke-width="1.5"/>
<line x1="318.90" y1="2.50" x2="318.90" y2="5.50" stroke="#333" stroke-width="1.4"/>
<line x1="318.90" y1="213.80" x2="318.90" y2="216.80" stroke="#333" stroke-width="1.4"/>
<line x1="337.65" y1="2.50" x2="337.65" y2="6.90" stroke="#333" stroke-width="1.5"/>
<line x1="337.65" y1="213.80" x2="337.65" y2="218.20" stroke="#333" stroke-width="1.5"/>
<line x1="356.40" y1="2.50" x2="356.40" y2="5.50" stroke="#333" stroke-width="1.4"/>
<line x1="356.40" y1="213.80" x2="356.40" y2="216.80" stroke="#333" stroke-width="1.4"/>
<line x1="375.15" y1="2.50" x2="375.15" y2="6.90" stroke="#333" stroke-width="1.5"/>
<line x1="375.15" y1="213.80" x2="375.15" y2="218.20" stroke="#333" stroke-width="1.5"/>
<line x1="116.50" y1="204.90" x2="120.90" y2="204.90" stroke="#333" stroke-width="1.5"/>
<line x1="247.00" y1="204.90" x2="255.80" y2="204.90" stroke="#333" stroke-width="1.5"/>
<line x1="382.00" y1="204.90" x2="386.40" y2="204.90" stroke="#333" stroke-width="1.5"/>
<line x1="116.50" y1="181.90" x2="119.30" y2="181.90" stroke="#333" stroke-width="1.4"/>
<line x1="248.60" y1="181.90" x2="254.20" y2="181.90" stroke="#333" stroke-width="1.4"/>
<line x1="383.60" y1="181.90" x2="386.40" y2="181.90" stroke="#333" stroke-width="1.4"/>
<line x1="116.50" y1="158.90" x2="120.90" y2="158.90" stroke="#333" stroke-width="1.5"/>
<line x1="247.00" y1="158.90" x2="255.80" y2="158.90" stroke="#333" stroke-width="1.5"/>
<line x1="382.00" y1="158.90" x2="386.40" y2="158.90" stroke="#333" stroke-width="1.5"/>
<line x1="116.50" y1="135.90" x2="119.30" y2="135.90" stroke="#333" stroke-width="1.4"/>
<line x1="248.60" y1="135.90" x2="254.20" y2="135.90" stroke="#333" stroke-width="1.4"/>
<line x1="383.60" y1="135.90" x2="386.40" y2="135.90" stroke="#333" stroke-width="1.4"/>
<line x1="116.50" y1="112.90" x2="120.90" y2="112.90" stroke="#333" stroke-width="1.5"/>
<line x1="247.00" y1="112.90" x2="255.80" y2="112.90" stroke="#333" stroke-width="1.5"/>
<line x1="382.00" y1="112.90" x2="386.40" y2="112.90" stroke="#333" stroke-width="1.5"/>
<line x1="116.50" y1="89.90" x2="119.30" y2="89.90" stroke="#333" stroke-width="1.4"/>
<line x1="248.60" y1="89.90" x2="254.20" y2="89.90" stroke="#333" stroke-width="1.4"/>
<line x1="383.60" y1="89.90" x2="386.40" y2="89.90" stroke="#333" stroke-width="1.4"/>
<line x1="116.50" y1="66.90" x2="120.90" y2="66.90" stroke="#333" stroke-width="1.5"/>
<line x1="247.00" y1="66.90" x2="255.80" y2="66.90" stroke="#333" stroke-width="1.5"/>
<line x1="382.00" y1="66.90" x2="386.40" y2="66.90" stroke="#333" stroke-width="1.5"/>
<line x1="116.50" y1="43.90" x2="119.30" y2="43.90" stroke="#333" stroke-width="1.4"/>
<line x1="248.60" y1="43.90" x2="254.20" y2="43.90" stroke="#333" stroke-width="1.4"/>
<line x1="383.60" y1="43.90" x2="386.40" y2="43.90" stroke="#333" stroke-width="1.4"/>
<line x1="116.50" y1="20.90" x2="120.90" y2="20.90" stroke="#333" stroke-width="1.5"/>
<line x1="247.00" y1="20.90" x2="255.80" y2="20.90" stroke="#333" stroke-width="1.5"/>
<line x1="382.00" y1="20.90" x2="386.40" y2="20.90" stroke="#333" stroke-width="1.5"/>
<rect x="197.3" y="10" width="47.5" height="69" fill="#fff" stroke="#bcbcbc" stroke-width="1.4"/>
<line x1="197.8" y1="18" x2="223.6" y2="18" stroke="#ff0000" stroke-width="2"/>
<text x="225.4" y="22.10" font-family="Liberation Serif, serif" font-size="11">3L</text>
<line x1="197.8" y1="31.3" x2="223.6" y2="31.3" stroke="#00ff00" stroke-width="2"/>
<text x="225.4" y="35.40" font-family="Liberation Serif, serif" font-size="11">4L</text>
<line x1="197.8" y1="44.8" x2="223.6" y2="44.8" stroke="#0000ff" stroke-width="2"/>
<text x="225.4" y="48.90" font-family="Liberation Serif, serif" font-size="11">9L</text>
<line x1="197.8" y1="58.3" x2="223.6" y2="58.3" stroke="#00ffff" stroke-width="2"/>
<text x="225.4" y="62.40" font-family="Liberation Serif, serif" font-size="11">21L</text>
<line x1="197.8" y1="71.9" x2="223.6" y2="71.9" stroke="#ff00ff" stroke-width="2"/>
<text x="225.4" y="76.00" font-family="Liberation Serif, serif" font-size="11">71L</text>
<rect x="328.2" y="9.8" width="48.69999999999999" height="68.8" fill="#fff" stroke="#bcbcbc" stroke-width="1.4"/>
<line x1="328.8" y1="17.1" x2="355.2" y2="17.1" stroke="#000000" stroke-width="2"/>
<text x="357.2" y="21.20" font-family="Liberation Serif, serif" font-size="11">&lt;3L</text>
<line x1="328.8" y1="30.6" x2="355.2" y2="30.6" stroke="#ff0000" stroke-width="2"/>
<text x="357.2" y="34.70" font-family="Liberation Serif, serif" font-size="11">3L</text>
<line x1="328.8" y1="44.2" x2="355.2" y2="44.2" stroke="#00ff00" stroke-width="2"/>
<text x="357.2" y="48.30" font-family="Liberation Serif, serif" font-size="11">5L</text>
<line x1="328.8" y1="57.8" x2="355.2" y2="57.8" stroke="#0000ff" stroke-width="2"/>
<text x="357.2" y="61.90" font-family="Liberation Serif, serif" font-size="11">12L</text>
<line x1="328.8" y1="71.2" x2="355.2" y2="71.2" stroke="#00ffff" stroke-width="2"/>
<text x="357.2" y="75.30" font-family="Liberation Serif, serif" font-size="11">75L</text>
<text transform="translate(133.1,40.0) scale(1.0,1)" font-family="Liberation Sans, sans-serif" font-size="11.3"><tspan dy="0">Fe</tspan><tspan font-size="9.4" dy="2.6" style="stroke-width:0.1px">3</tspan><tspan dy="-2.6">GeTe</tspan><tspan font-size="9.4" dy="2.6" style="stroke-width:0.1px">2</tspan></text>
<text transform="translate(271.2,38.3) scale(1.0,1)" font-family="Liberation Sans, sans-serif" font-size="11.3"><tspan dy="0">Fe</tspan><tspan font-size="9.4" dy="2.6" style="stroke-width:0.1px">5</tspan><tspan dy="-2.6">Ge</tspan><tspan font-size="9.4" dy="2.6" style="stroke-width:0.1px">2</tspan><tspan dy="-2.6">Te</tspan><tspan font-size="9.4" dy="2.6" style="stroke-width:0.1px">2</tspan></text>
<text x="127.75" y="233.5" text-anchor="middle" font-family="Liberation Serif, serif" font-size="16">0</text>
<text x="165.25" y="233.5" text-anchor="middle" font-family="Liberation Serif, serif" font-size="16">100</text>
<text x="202.75" y="233.5" text-anchor="middle" font-family="Liberation Serif, serif" font-size="16">200</text>
<text x="240.25" y="233.5" text-anchor="middle" font-family="Liberation Serif, serif" font-size="16">300</text>
<text x="184.00" y="247.7" text-anchor="middle" font-family="Liberation Serif, serif" font-size="16">T (K)</text>
<text x="262.65" y="233.5" text-anchor="middle" font-family="Liberation Serif, serif" font-size="16">0</text>
<text x="300.15" y="233.5" text-anchor="middle" font-family="Liberation Serif, serif" font-size="16">100</text>
<text x="337.65" y="233.5" text-anchor="middle" font-family="Liberation Serif, serif" font-size="16">200</text>
<text x="375.15" y="233.5" text-anchor="middle" font-family="Liberation Serif, serif" font-size="16">300</text>
<text x="318.90" y="247.7" text-anchor="middle" font-family="Liberation Serif, serif" font-size="16">T (K)</text>
<text x="111.8" y="210.10" text-anchor="end" font-family="Liberation Serif, serif" font-size="16">0.75</text>
<text x="111.8" y="164.10" text-anchor="end" font-family="Liberation Serif, serif" font-size="16">1.00</text>
<text x="111.8" y="118.10" text-anchor="end" font-family="Liberation Serif, serif" font-size="16">1.25</text>
<text x="111.8" y="72.10" text-anchor="end" font-family="Liberation Serif, serif" font-size="16">1.50</text>
<text x="111.8" y="26.10" text-anchor="end" font-family="Liberation Serif, serif" font-size="16">1.75</text>
<text transform="translate(75.6,0) rotate(-90)" x="-154.60" y="0.00" font-family="Liberation Serif, serif" font-size="16">ρ</text>
<text transform="translate(75.6,0) rotate(-90)" x="-146.60" y="5.70" font-family="Liberation Serif, serif" font-size="8.5">xx</text>
<text transform="translate(75.6,0) rotate(-90)" x="-146.20" y="-8.30" font-family="Liberation Serif, serif" font-size="9">3D</text>
<text transform="translate(75.6,0) rotate(-90)" x="-134.60" y="0.00" font-family="Liberation Serif, serif" font-size="16">/</text>
<text transform="translate(75.6,0) rotate(-90)" x="-130.10" y="0.00" font-family="Liberation Serif, serif" font-size="16">ρ</text>
<text transform="translate(75.6,0) rotate(-90)" x="-122.20" y="5.70" font-family="Liberation Serif, serif" font-size="8.5">xx</text>
<text transform="translate(75.6,0) rotate(-90)" x="-121.90" y="-8.30" font-family="Liberation Serif, serif" font-size="9">3D</text>
<text transform="translate(75.6,0) rotate(-90)" x="-106.80" y="0.00" font-family="Liberation Serif, serif" font-size="15.7">(300K)</text>
</svg>
</body></html>
